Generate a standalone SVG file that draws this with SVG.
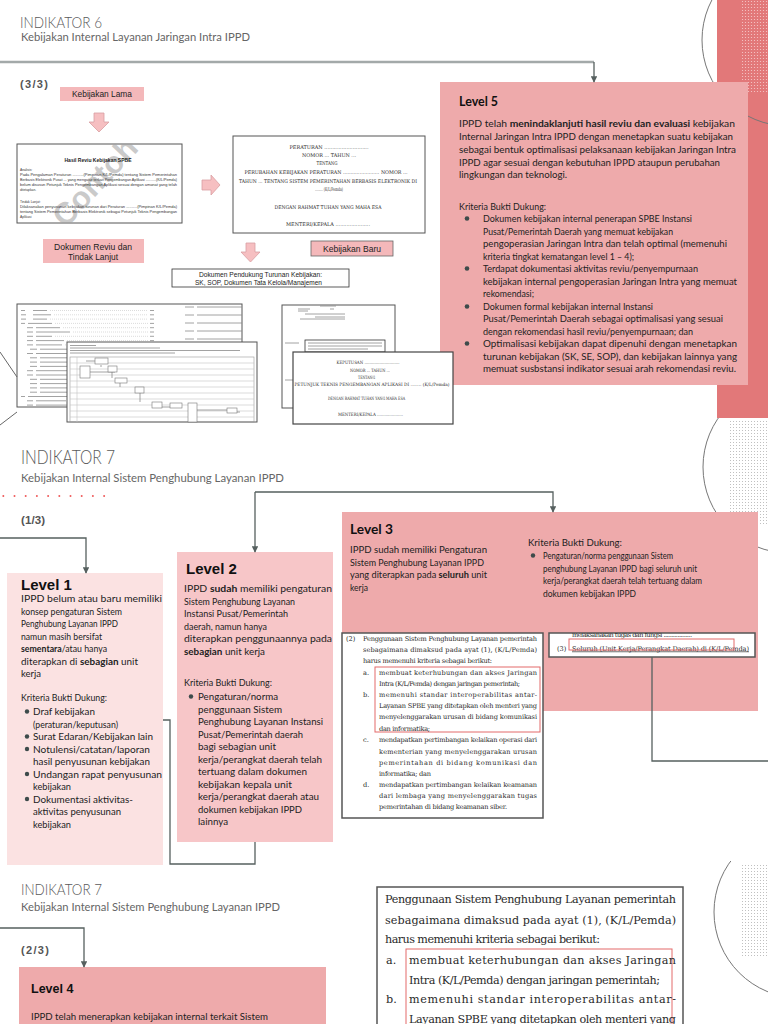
<svg xmlns="http://www.w3.org/2000/svg" width="768" height="1024" viewBox="0 0 768 1024">
<defs>
<style>
.h{font-family:Lato,'Open Sans',sans-serif;font-weight:300;fill:#595959}
.sub{font-family:Lato,'Open Sans',sans-serif;fill:#666}
.pg{font-family:'Liberation Sans',Arial,sans-serif;font-weight:bold;fill:#555}
.t{font-family:Lato,'Open Sans',sans-serif;fill:#222}
.bd{font-weight:bold}
.ttl{font-family:Lato,'Open Sans',sans-serif;font-weight:bold;fill:#111}
.ttla{font-family:'Liberation Sans',Arial,sans-serif;font-weight:bold;fill:#111}
.lbl{font-family:'Liberation Sans',Arial,sans-serif;fill:#222;text-anchor:middle}
.ser{font-family:'DejaVu Serif','Liberation Serif',serif;fill:#2a2a2a}
.mid{text-anchor:middle}
.conn{fill:none;stroke:#56605f;stroke-width:1.3}
.doc{fill:#fff;stroke:#555;stroke-width:1}
.blk{fill:#f6bfc1;stroke:#d9a0a2;stroke-width:0.8}
.tl1{stroke:#8a8a8a;stroke-width:0.8;fill:none}
.tl2{stroke:#c4c4c4;stroke-width:0.6;fill:none}
.arc{fill:none;stroke:#777;stroke-width:1}
.dot{fill:#3d4b4b}
</style>
<marker id="ah" viewBox="0 0 10 10" refX="9" refY="5" markerWidth="5" markerHeight="5" orient="auto"><path d="M0,0L10,5L0,10z" fill="#56605f"/></marker>
<pattern id="dw" width="3" height="3" patternUnits="userSpaceOnUse"><circle cx="1.5" cy="1.5" r="0.6" fill="#f6cccc"/></pattern>
<pattern id="dg" width="3" height="3" patternUnits="userSpaceOnUse"><circle cx="1.5" cy="1.5" r="0.55" fill="#b5b5b5"/></pattern>
<clipPath id="cc1"><circle cx="788" cy="40" r="86"/></clipPath>
<clipPath id="cc2"><circle cx="789" cy="467" r="86"/></clipPath>
<clipPath id="cc3"><circle cx="800" cy="912" r="86"/></clipPath>
<clipPath id="slide3"><rect x="600" y="861" width="168" height="163"/></clipPath>
<clipPath id="cd1"><rect x="17" y="144" width="165" height="79"/></clipPath>
<clipPath id="cdD"><rect x="293" y="352" width="160" height="72"/></clipPath>
<clipPath id="cdR"><rect x="549" y="633" width="206" height="24"/></clipPath>
</defs>
<rect width="768" height="1024" fill="#fff"/>

<!-- decorative right side -->
<g id="decor">
<rect x="730" y="420" width="38" height="106" fill="url(#dg)" clip-path="url(#cc2)"/>
<circle cx="789" cy="467" r="86" class="arc"/>
<rect x="717" y="0" width="51" height="418" fill="#e27879"/>
<rect x="742" y="0" width="26" height="92" fill="url(#dw)" clip-path="url(#cc1)"/>
<circle cx="788" cy="40" r="86" class="arc"/>
<g clip-path="url(#slide3)">
<rect x="740" y="864" width="28" height="92" fill="url(#dg)" clip-path="url(#cc3)"/>
<circle cx="800" cy="912" r="86" class="arc"/>
</g>
</g>

<!-- headers -->
<g id="header-ind6">
<line x1="0" y1="62" x2="594" y2="62" stroke="#a3a9a9" stroke-width="2.5"/>
<text class="h" x="20" y="28" font-size="16" textLength="82" lengthAdjust="spacingAndGlyphs">INDIKATOR 6</text>
<text class="sub" x="21" y="41" font-size="10.5" textLength="229" lengthAdjust="spacingAndGlyphs">Kebijakan Internal Layanan Jaringan Intra IPPD</text>
<text class="pg" x="20" y="88" font-size="11" textLength="28" lengthAdjust="spacing">(3/3)</text>
</g>
<g id="header-ind7a">
<text class="h" x="21" y="464" font-size="19" textLength="94" lengthAdjust="spacingAndGlyphs">INDIKATOR 7</text>
<text class="sub" x="21" y="481.5" font-size="11.5" textLength="263" lengthAdjust="spacingAndGlyphs">Kebijakan Internal Sistem Penghubung Layanan IPPD</text>
<g fill="#ef5a5a"><circle cx="3.3" cy="496" r="1"/><circle cx="14.5" cy="496" r="1"/><circle cx="25.7" cy="496" r="1"/><circle cx="36.9" cy="496" r="1"/><circle cx="48.1" cy="496" r="1"/><circle cx="59.3" cy="496" r="1"/><circle cx="70.5" cy="496" r="1"/><circle cx="81.7" cy="496" r="1"/><circle cx="92.9" cy="496" r="1"/><circle cx="104.1" cy="496" r="1"/></g>
<text class="pg" x="21" y="524" font-size="11.5" textLength="24" lengthAdjust="spacing">(1/3)</text>
</g>
<g id="header-ind7b">
<text class="h" x="21" y="895" font-size="16" textLength="81" lengthAdjust="spacingAndGlyphs">INDIKATOR 7</text>
<text class="sub" x="21" y="911" font-size="10.5" textLength="259" lengthAdjust="spacingAndGlyphs">Kebijakan Internal Sistem Penghubung Layanan IPPD</text>
<text class="pg" x="21" y="954" font-size="11" textLength="28" lengthAdjust="spacing">(2/3)</text>
</g>

<!-- Level 5 -->
<g id="level5">
<rect x="440" y="82" width="308" height="303" fill="#eeaaab"/>
<text class="ttl" x="459" y="106" font-size="13.5" textLength="39" lengthAdjust="spacingAndGlyphs">Level 5</text>
<g class="t" font-size="9.5">
<text x="459" y="127" textLength="276" lengthAdjust="spacingAndGlyphs">IPPD telah <tspan class="bd">menindaklanjuti hasil reviu dan evaluasi</tspan> kebijakan</text>
<text x="459" y="140" textLength="274" lengthAdjust="spacingAndGlyphs">Internal Jaringan Intra IPPD dengan menetapkan suatu kebijakan</text>
<text x="459" y="153" textLength="277" lengthAdjust="spacingAndGlyphs">sebagai bentuk optimalisasi pelaksanaan kebijakan Jaringan Intra</text>
<text x="459" y="166" textLength="261" lengthAdjust="spacingAndGlyphs">IPPD agar sesuai dengan kebutuhan IPPD ataupun perubahan</text>
<text x="459" y="178" textLength="108" lengthAdjust="spacingAndGlyphs">lingkungan dan teknologi.</text>
<text x="459" y="210" textLength="87" lengthAdjust="spacingAndGlyphs">Kriteria Bukti Dukung:</text>
<text x="483" y="222" textLength="209" lengthAdjust="spacingAndGlyphs">Dokumen kebijakan internal penerapan SPBE Instansi</text>
<text x="483" y="235" textLength="190" lengthAdjust="spacingAndGlyphs">Pusat/Pemerintah Daerah yang memuat kebijakan</text>
<text x="483" y="247" textLength="244" lengthAdjust="spacingAndGlyphs">pengoperasian Jaringan Intra dan telah optimal (memenuhi</text>
<text x="483" y="260" textLength="151" lengthAdjust="spacingAndGlyphs">kriteria tingkat kematangan level 1 – 4);</text>
<text x="483" y="272" textLength="215" lengthAdjust="spacingAndGlyphs">Terdapat dokumentasi aktivitas reviu/penyempurnaan</text>
<text x="483" y="285" textLength="254" lengthAdjust="spacingAndGlyphs">kebijakan internal pengoperasian Jaringan Intra yang memuat</text>
<text x="483" y="297" textLength="51" lengthAdjust="spacingAndGlyphs">rekomendasi;</text>
<text x="483" y="310" textLength="170" lengthAdjust="spacingAndGlyphs">Dokumen formal kebijakan internal Instansi</text>
<text x="483" y="322" textLength="240" lengthAdjust="spacingAndGlyphs">Pusat/Pemerintah Daerah sebagai optimalisasi yang sesuai</text>
<text x="483" y="335" textLength="210" lengthAdjust="spacingAndGlyphs">dengan rekomendasi hasil reviu/penyempurnaan; dan</text>
<text x="483" y="347" textLength="254" lengthAdjust="spacingAndGlyphs">Optimalisasi kebijakan dapat dipenuhi dengan menetapkan</text>
<text x="483" y="360" textLength="254" lengthAdjust="spacingAndGlyphs">turunan kebijakan (SK, SE, SOP), dan kebijakan lainnya yang</text>
<text x="483" y="372" textLength="253" lengthAdjust="spacingAndGlyphs">memuat susbstansi indikator sesuai arah rekomendasi reviu.</text>
</g>
<g class="dot"><circle cx="467" cy="218.5" r="2.3"/><circle cx="467" cy="268.5" r="2.3"/><circle cx="467" cy="306.5" r="2.3"/><circle cx="467" cy="343.5" r="2.3"/></g>
</g>

<!-- Kebijakan Lama flow -->
<g id="kebijakan-lama">
<rect x="60" y="87" width="84" height="14" fill="#f4b8ba"/>
<text class="lbl" x="102" y="97" font-size="8.5" textLength="60" lengthAdjust="spacingAndGlyphs">Kebijakan Lama</text>
</g>
<g id="arrow-down-1"><path class="blk" d="M94,113H104V122H109L99,132L89,122H94Z"/></g>
<g id="doc-reviu">
<rect class="doc" x="17" y="144" width="165" height="79"/>
<g clip-path="url(#cd1)">
<text x="95" y="182" transform="rotate(-47 95 182)" text-anchor="middle" dominant-baseline="central" font-family="'Liberation Sans',Arial,sans-serif" font-weight="bold" font-size="31" fill="#a0a0a0" opacity="0.55">Contoh</text>
<text class="lbl" x="98" y="162" font-size="5.5" textLength="67" lengthAdjust="spacingAndGlyphs" style="font-weight:bold">Hasil Reviu Kebijakan SPBE</text>
<g font-family="'Liberation Sans',Arial,sans-serif" font-size="3.3" fill="#333">
<text x="20" y="170.5">Analisis:</text>
<text x="20" y="175.5" textLength="157" lengthAdjust="spacingAndGlyphs">Pada Pengalaman Peraturan ..........(Pimpinan K/L/Pemda) tentang Sistem Pemerintahan</text>
<text x="20" y="180.5" textLength="157" lengthAdjust="spacingAndGlyphs">Berbasis Elektronik Pusat ... yang mengatur terkait Pengembangan Aplikasi ..........(K/L/Pemda)</text>
<text x="20" y="185.5" textLength="157" lengthAdjust="spacingAndGlyphs">belum disusun Petunjuk Teknis Pengembangan Aplikasi sesuai dengan amanat yang telah</text>
<text x="20" y="190.5">ditetapkan.</text>
<text x="20" y="203">Tindak Lanjut:</text>
<text x="20" y="208" textLength="157" lengthAdjust="spacingAndGlyphs">Dilaksanakan penyusunan kebijakan turunan dari Peraturan ..........(Pimpinan K/L/Pemda)</text>
<text x="20" y="213" textLength="157" lengthAdjust="spacingAndGlyphs">tentang Sistem Pemerintahan Berbasis Elektronik sebagai Petunjuk Teknis Pengembangan</text>
<text x="20" y="217.5">Aplikasi</text>
</g>
</g>
</g>
<g id="label-reviu">
<rect x="43" y="239" width="101" height="24" fill="#f4b8ba"/>
<text class="lbl" x="93" y="250" font-size="8.7" textLength="78" lengthAdjust="spacingAndGlyphs">Dokumen Reviu dan</text>
<text class="lbl" x="93" y="260" font-size="8.7" textLength="50" lengthAdjust="spacingAndGlyphs">Tindak Lanjut</text>
</g>
<g id="arrow-right-1"><path class="blk" d="M202,180H211V175L220,185L211,195V190H202Z"/></g>
<g id="doc-peraturan">
<rect class="doc" x="233" y="136" width="192" height="97"/>
<g class="ser mid" font-size="5">
<text x="329" y="149" textLength="79" lengthAdjust="spacingAndGlyphs">PERATURAN ............................</text>
<text x="329" y="157" textLength="54" lengthAdjust="spacingAndGlyphs">NOMOR ... TAHUN ...</text>
<text x="327" y="165" textLength="21" lengthAdjust="spacingAndGlyphs">TENTANG</text>
<text x="326" y="174" textLength="163" lengthAdjust="spacingAndGlyphs">PERUBAHAN KEBIJAKAN PERATURAN ........................ NOMOR ...</text>
<text x="328" y="183" textLength="178" lengthAdjust="spacingAndGlyphs">TAHUN ... TENTANG SISTEM PEMERINTAHAN BERBASIS ELEKTRONIK DI</text>
<text x="329" y="191" textLength="28" lengthAdjust="spacingAndGlyphs">........ (K/L/Pemda)</text>
<text x="328" y="209" textLength="107" lengthAdjust="spacingAndGlyphs">DENGAN RAHMAT TUHAN YANG MAHA ESA</text>
<text x="328" y="226" textLength="84" lengthAdjust="spacingAndGlyphs">MENTERI/KEPALA ......................</text>
</g>
</g>
<g id="arrow-down-2"><path class="blk" d="M246,243H255V252H260L250.5,262L241,252H246Z"/></g>
<g id="label-baru">
<rect x="311" y="241" width="82" height="15" fill="#f4b8ba" stroke="#666" stroke-width="0.8"/>
<text class="lbl" x="352" y="251.5" font-size="8.5" textLength="58" lengthAdjust="spacingAndGlyphs">Kebijakan Baru</text>
</g>
<g id="doc-pendukung">
<rect x="172" y="269" width="177" height="18" fill="#fff" stroke="#333" stroke-width="0.8"/>
<text class="lbl" x="260.5" y="276.5" font-size="6.3" textLength="123" lengthAdjust="spacingAndGlyphs">Dokumen Pendukung Turunan Kebijakan:</text>
<text class="lbl" x="258.5" y="284.5" font-size="6.3" textLength="127" lengthAdjust="spacingAndGlyphs">SK, SOP, Dokumen Tata Kelola/Manajemen</text>
</g>

<!-- thumbnails -->
<g id="thumb-toc">
<rect class="doc" x="17" y="304" width="225" height="103"/>
<path class="tl1" d="M21,310.5h4M33,310.5h14M21,314.8h5M33,314.8h18M21,319.1h5M33,319.1h14M21,323.4h4M28,323.4h24M27,327.7h6M36,327.7h24M27,332h6M36,332h34M27,336.3h6M36,336.3h16M27,340.6h6M36,340.6h28M27,344.9h6M36,344.9h26M30,349.2h7M40,349.2h36M27,353.5h6M36,353.5h44M30,357.8h7M40,357.8h30M30,362.1h7M40,362.1h32M30,366.4h7M40,366.4h34M27,370.7h6M36,370.7h32M27,375h6M36,375h40M30,379.3h7M40,379.3h30M30,383.6h7M40,383.6h30M30,387.9h7M40,387.9h34M30,392.2h7M40,392.2h32M21,396.5h4M28,396.5h50M27,400.8h6M36,400.8h30M27,405.1h6M36,405.1h40"/>
<path class="tl2" stroke-dasharray="1 1" d="M50,310.5H148M54,314.8H148M50,319.1H148M55,323.4H148M63,327.7H148M73,332H148M55,336.3H148M67,340.6H148M65,344.9H148"/>
<path class="tl1" d="M150,310.5h4M150,314.8h4M150,319.1h4M150,323.4h4M150,327.7h4M150,332h4M150,336.3h4M150,340.6h4M185,307h9M197,307h45M185,315h9M197,315h45M185,323h9M197,323h45M185,331h9M197,331h45M185,339h9M197,339h45"/>
</g>
<g id="thumb-flow">
<rect class="doc" x="67" y="342" width="190" height="80"/>
<path class="tl1" d="M70,345.5h26M70,348h90M70,350.5h170M70,353h105"/>
<rect x="70" y="357" width="184" height="65" fill="none" stroke="#999" stroke-width="0.6"/>
<path class="tl2" d="M70,363H254M70,369H254M70,375H254M70,381H254M70,387H254M70,393H254M70,399H254M70,405H254M70,411H254M70,417H254M77,357V422"/>
<path class="tl1" d="M86,361H95M101,365V367M85,372H115M112,372V378M120,383V387M140,392V402M157,407H170M188,410H227M230,412H240"/>
<g fill="#fff" stroke="#777" stroke-width="0.6">
<rect x="95" y="358" width="13" height="6"/><rect x="80" y="366" width="10" height="12"/><rect x="108" y="366" width="9" height="6"/><rect x="115" y="378" width="12" height="5"/><rect x="135" y="387" width="9" height="6"/><rect x="152" y="402" width="10" height="6"/><rect x="170" y="403" width="12" height="5"/><rect x="188" y="403" width="9" height="19"/><rect x="227" y="408" width="10" height="5"/>
</g>
</g>
<g id="thumb-doc-c">
<rect class="doc" x="282" y="305" width="113" height="103"/>
<path class="tl1" d="M320,306h16M298,309h12M330,309h4M298,311h10M305,314h40M315,317h30M300,319h45M285,343h14M330,343h2"/>
<rect x="305" y="340" width="80" height="12" fill="#fff" stroke="#333" stroke-width="0.8"/>
<path class="tl1" d="M308,343h74M308,346h74M308,349h60M285,380h14"/>
</g>
<g id="thumb-keputusan">
<rect x="293" y="352" width="160" height="72" fill="#fff" stroke="#444" stroke-width="1.2"/>
<g clip-path="url(#cdD)" class="ser mid" font-size="4.4">
<text x="368" y="363.5" textLength="63" lengthAdjust="spacingAndGlyphs">KEPUTUSAN ............................</text>
<text x="370" y="371.5" textLength="40" lengthAdjust="spacingAndGlyphs">NOMOR ... TAHUN ...</text>
<text x="366.5" y="378.5" textLength="17" lengthAdjust="spacingAndGlyphs">TENTANG</text>
<text x="372" y="386" textLength="155" lengthAdjust="spacingAndGlyphs">PETUNJUK TEKNIS PENGEMBANGAN APLIKASI DI ........ (K/L/Pemda)</text>
<text x="366.5" y="399.5" textLength="77" lengthAdjust="spacingAndGlyphs">DENGAN RAHMAT TUHAN YANG MAHA ESA</text>
<text x="370.5" y="416" textLength="65" lengthAdjust="spacingAndGlyphs">MENTERI/KEPALA .....................</text>
</g>
</g>
<g id="callout-lines">
<path d="M0,352L17,377M0,425L17,412" stroke="#666" stroke-width="1" fill="none"/>
</g>

<!-- Level 1 -->
<g id="level1">
<rect x="7" y="573" width="156" height="292" fill="#fbe2e2"/>
<text class="ttla" x="21" y="590" font-size="15">Level 1</text>
<g class="t" font-size="9.7">
<text x="21" y="602" textLength="141" lengthAdjust="spacingAndGlyphs">IPPD belum atau baru memiliki</text>
<text x="21" y="614.5" textLength="101" lengthAdjust="spacingAndGlyphs">konsep pengaturan Sistem</text>
<text x="21" y="627" textLength="97" lengthAdjust="spacingAndGlyphs">Penghubung Layanan IPPD</text>
<text x="21" y="639.5" textLength="81" lengthAdjust="spacingAndGlyphs">namun masih bersifat</text>
<text x="21" y="652" textLength="86" lengthAdjust="spacingAndGlyphs"><tspan class="bd">sementara</tspan>/atau hanya</text>
<text x="21" y="664.5" textLength="117" lengthAdjust="spacingAndGlyphs">diterapkan di <tspan class="bd">sebagian</tspan> unit</text>
<text x="21" y="677" textLength="20" lengthAdjust="spacingAndGlyphs">kerja</text>
<text x="21" y="701" textLength="86" lengthAdjust="spacingAndGlyphs">Kriteria Bukti Dukung:</text>
<text x="33" y="715" textLength="62" lengthAdjust="spacingAndGlyphs">Draf kebijakan</text>
<text x="33" y="727.5" textLength="85" lengthAdjust="spacingAndGlyphs">(peraturan/keputusan)</text>
<text x="33" y="740" textLength="120" lengthAdjust="spacingAndGlyphs">Surat Edaran/Kebijakan lain</text>
<text x="33" y="752.5" textLength="117" lengthAdjust="spacingAndGlyphs">Notulensi/catatan/laporan</text>
<text x="33" y="765" textLength="117" lengthAdjust="spacingAndGlyphs">hasil penyusunan kebijakan</text>
<text x="33" y="777.5" textLength="129" lengthAdjust="spacingAndGlyphs">Undangan rapat penyusunan</text>
<text x="33" y="790" textLength="38" lengthAdjust="spacingAndGlyphs">kebijakan</text>
<text x="33" y="802.5" textLength="100" lengthAdjust="spacingAndGlyphs">Dokumentasi aktivitas-</text>
<text x="33" y="815" textLength="88" lengthAdjust="spacingAndGlyphs">aktivitas penyusunan</text>
<text x="33" y="827.5" textLength="38" lengthAdjust="spacingAndGlyphs">kebijakan</text>
</g>
<g class="dot"><circle cx="27" cy="711.5" r="2.2"/><circle cx="27" cy="736.5" r="2.2"/><circle cx="27" cy="749" r="2.2"/><circle cx="27" cy="774" r="2.2"/><circle cx="27" cy="799" r="2.2"/></g>
</g>

<!-- Level 2 -->
<g id="level2">
<rect x="177" y="552" width="156" height="290" fill="#f7c6c8"/>
<text class="ttla" x="186" y="574" font-size="15">Level 2</text>
<g class="t" font-size="9.7">
<text x="184" y="592" textLength="148" lengthAdjust="spacingAndGlyphs">IPPD <tspan class="bd">sudah</tspan> memiliki pengaturan</text>
<text x="184" y="604.5" textLength="111" lengthAdjust="spacingAndGlyphs">Sistem Penghubung Layanan</text>
<text x="184" y="617" textLength="104" lengthAdjust="spacingAndGlyphs">Instansi Pusat/Pemerintah</text>
<text x="184" y="629.5" textLength="83" lengthAdjust="spacingAndGlyphs">daerah, namun hanya</text>
<text x="184" y="642" textLength="148" lengthAdjust="spacingAndGlyphs">diterapkan penggunaannya pada</text>
<text x="184" y="654.5" textLength="81" lengthAdjust="spacingAndGlyphs"><tspan class="bd">sebagian</tspan> unit kerja</text>
<text x="184" y="686" textLength="88" lengthAdjust="spacingAndGlyphs">Kriteria Bukti Dukung:</text>
<text x="198" y="700" textLength="80" lengthAdjust="spacingAndGlyphs">Pengaturan/norma</text>
<text x="198" y="712.5" textLength="84" lengthAdjust="spacingAndGlyphs">penggunaan Sistem</text>
<text x="198" y="725" textLength="125" lengthAdjust="spacingAndGlyphs">Penghubung Layanan Instansi</text>
<text x="198" y="737.5" textLength="105" lengthAdjust="spacingAndGlyphs">Pusat/Pemerintah daerah</text>
<text x="198" y="750" textLength="78" lengthAdjust="spacingAndGlyphs">bagi sebagian unit</text>
<text x="198" y="762.5" textLength="124" lengthAdjust="spacingAndGlyphs">kerja/perangkat daerah telah</text>
<text x="198" y="775" textLength="109" lengthAdjust="spacingAndGlyphs">tertuang dalam dokumen</text>
<text x="198" y="787.5" textLength="94" lengthAdjust="spacingAndGlyphs">kebijakan kepala unit</text>
<text x="198" y="800" textLength="121" lengthAdjust="spacingAndGlyphs">kerja/perangkat daerah atau</text>
<text x="198" y="812.5" textLength="104" lengthAdjust="spacingAndGlyphs">dokumen kebijakan IPPD</text>
<text x="198" y="825" textLength="30" lengthAdjust="spacingAndGlyphs">lainnya</text>
</g>
<circle class="dot" cx="191" cy="696.5" r="2.2"/>
</g>

<!-- Level 3 -->
<g id="level3">
<rect x="342" y="512" width="416" height="199" fill="#eeaaab"/>
<text class="ttl" x="350" y="533.5" font-size="14" textLength="43" lengthAdjust="spacingAndGlyphs">Level 3</text>
<g class="t" font-size="9.4">
<text x="350" y="553" textLength="137" lengthAdjust="spacingAndGlyphs">IPPD sudah memiliki Pengaturan</text>
<text x="350" y="565.5" textLength="134" lengthAdjust="spacingAndGlyphs">Sistem Penghubung Layanan IPPD</text>
<text x="350" y="578" textLength="137" lengthAdjust="spacingAndGlyphs">yang diterapkan pada <tspan class="bd">seluruh</tspan> unit</text>
<text x="350" y="590.5" textLength="18" lengthAdjust="spacingAndGlyphs">kerja</text>
<text x="528" y="546" textLength="94" lengthAdjust="spacingAndGlyphs">Kriteria Bukti Dukung:</text>
<text x="543" y="559" textLength="130" lengthAdjust="spacingAndGlyphs">Pengaturan/norma penggunaan Sistem</text>
<text x="543" y="571.5" textLength="154" lengthAdjust="spacingAndGlyphs">penghubung Layanan IPPD bagi seluruh unit</text>
<text x="543" y="584" textLength="159" lengthAdjust="spacingAndGlyphs">kerja/perangkat daerah telah tertuang dalam</text>
<text x="543" y="596.5" textLength="93" lengthAdjust="spacingAndGlyphs">dokumen kebijakan IPPD</text>
</g>
<circle class="dot" cx="533" cy="555.5" r="2.2"/>
</g>

<g id="doc-ayat2">
<rect x="342" y="633" width="201" height="185" fill="#fff" stroke="#555" stroke-width="1.5"/>
<rect x="375" y="667" width="165" height="65" fill="none" stroke="#e36a6a" stroke-width="1"/>
<g class="ser" font-size="6.6">
<text x="346" y="640.5">(2)</text>
<text x="363" y="640.5" textLength="174" lengthAdjust="spacing">Penggunaan Sistem Penghubung Layanan pemerintah</text>
<text x="363" y="651.5" textLength="174" lengthAdjust="spacing">sebagaimana dimaksud pada ayat (1), (K/L/Pemda)</text>
<text x="363" y="662.5" textLength="129" lengthAdjust="spacing">harus memenuhi kriteria sebagai berikut:</text>
<text x="363" y="674.5">a.</text>
<text x="379" y="674.5" textLength="158" lengthAdjust="spacing">membuat keterhubungan dan akses Jaringan</text>
<text x="379" y="685.5" textLength="141" lengthAdjust="spacing">Intra (K/L/Pemda) dengan jaringan pemerintah;</text>
<text x="363" y="696.5">b.</text>
<text x="379" y="696.5" textLength="158" lengthAdjust="spacing">memenuhi standar interoperabilitas antar-</text>
<text x="379" y="708" textLength="158" lengthAdjust="spacing">Layanan SPBE yang ditetapkan oleh menteri yang</text>
<text x="379" y="719" textLength="158" lengthAdjust="spacing">menyelenggarakan urusan di bidang komunikasi</text>
<text x="379" y="730.5" textLength="51" lengthAdjust="spacing">dan informatika;</text>
<text x="363" y="742">c.</text>
<text x="379" y="742" textLength="158" lengthAdjust="spacing">mendapatkan pertimbangan kelaikan operasi dari</text>
<text x="379" y="753.5" textLength="158" lengthAdjust="spacing">kementerian yang menyelenggarakan urusan</text>
<text x="379" y="764.5" textLength="158" lengthAdjust="spacing">pemerintahan di bidang komunikasi dan</text>
<text x="379" y="775.5" textLength="52" lengthAdjust="spacing">informatika; dan</text>
<text x="363" y="786.5">d.</text>
<text x="379" y="786.5" textLength="158" lengthAdjust="spacing">mendapatkan pertimbangan kelaikan keamanan</text>
<text x="379" y="798" textLength="158" lengthAdjust="spacing">dari lembaga yang menyelenggarakan tugas</text>
<text x="379" y="809" textLength="128" lengthAdjust="spacing">pemerintahan di bidang keamanan siber.</text>
</g>
</g>

<g id="doc-ayat3">
<rect x="549" y="633" width="206" height="24" fill="#fff" stroke="#555" stroke-width="1.5"/>
<g clip-path="url(#cdR)" class="ser" font-size="6.6">
<text x="572" y="637" textLength="120" lengthAdjust="spacing">melaksanakan tugas dan fungsi ..................</text>
<text x="557" y="650.5">(3)</text>
<text x="572" y="650.5" textLength="177" lengthAdjust="spacing" text-decoration="underline">Seluruh (Unit Kerja/Perangkat Daerah) di (K/L/Pemda)</text>
</g>
<rect x="569" y="639" width="165" height="11" fill="none" stroke="#e36a6a" stroke-width="1"/>
</g>

<!-- Level 4 -->
<g id="level4">
<rect x="19" y="967" width="307" height="57" fill="#eeaaab"/>
<text class="ttla" x="31" y="993" font-size="12.5">Level 4</text>
<text class="t" x="31" y="1020" font-size="10" textLength="237" lengthAdjust="spacingAndGlyphs">IPPD telah menerapkan kebijakan internal terkait Sistem</text>
</g>

<g id="doc-ayat2-large">
<rect x="377" y="887" width="306" height="145" fill="#fff" stroke="#555" stroke-width="1.5"/>
<rect x="406" y="949" width="266" height="80" fill="none" stroke="#e36a6a" stroke-width="1"/>
<g class="ser" font-size="11.2">
<text x="385" y="903" textLength="291" lengthAdjust="spacing">Penggunaan Sistem Penghubung Layanan pemerintah</text>
<text x="385" y="924" textLength="291" lengthAdjust="spacing">sebagaimana dimaksud pada ayat (1), (K/L/Pemda)</text>
<text x="385" y="943" textLength="215" lengthAdjust="spacing">harus memenuhi kriteria sebagai berikut:</text>
<text x="386" y="964">a.</text>
<text x="409" y="964" textLength="267" lengthAdjust="spacing">membuat keterhubungan dan akses Jaringan</text>
<text x="409" y="984" textLength="251" lengthAdjust="spacing">Intra (K/L/Pemda) dengan jaringan pemerintah;</text>
<text x="386" y="1003">b.</text>
<text x="409" y="1003" textLength="267" lengthAdjust="spacing">memenuhi standar interoperabilitas antar-</text>
<text x="409" y="1023" textLength="267" lengthAdjust="spacing">Layanan SPBE yang ditetapkan oleh menteri yang</text>
</g>
</g>

<!-- connectors -->
<g id="connectors">
<path class="conn" d="M594,62V82" marker-end="url(#ah)"/>
<path class="conn" d="M0,538H86V573" marker-end="url(#ah)"/>
<path class="conn" d="M255,492V552" marker-end="url(#ah)"/>
<path class="conn" d="M255,492H553V512" marker-end="url(#ah)"/>
<path class="conn" d="M163,720H170V864H255V842"/>
<path class="conn" d="M652,657V761H768"/>
<path class="conn" d="M0,928H84V967" marker-end="url(#ah)"/>
</g>
</svg>
